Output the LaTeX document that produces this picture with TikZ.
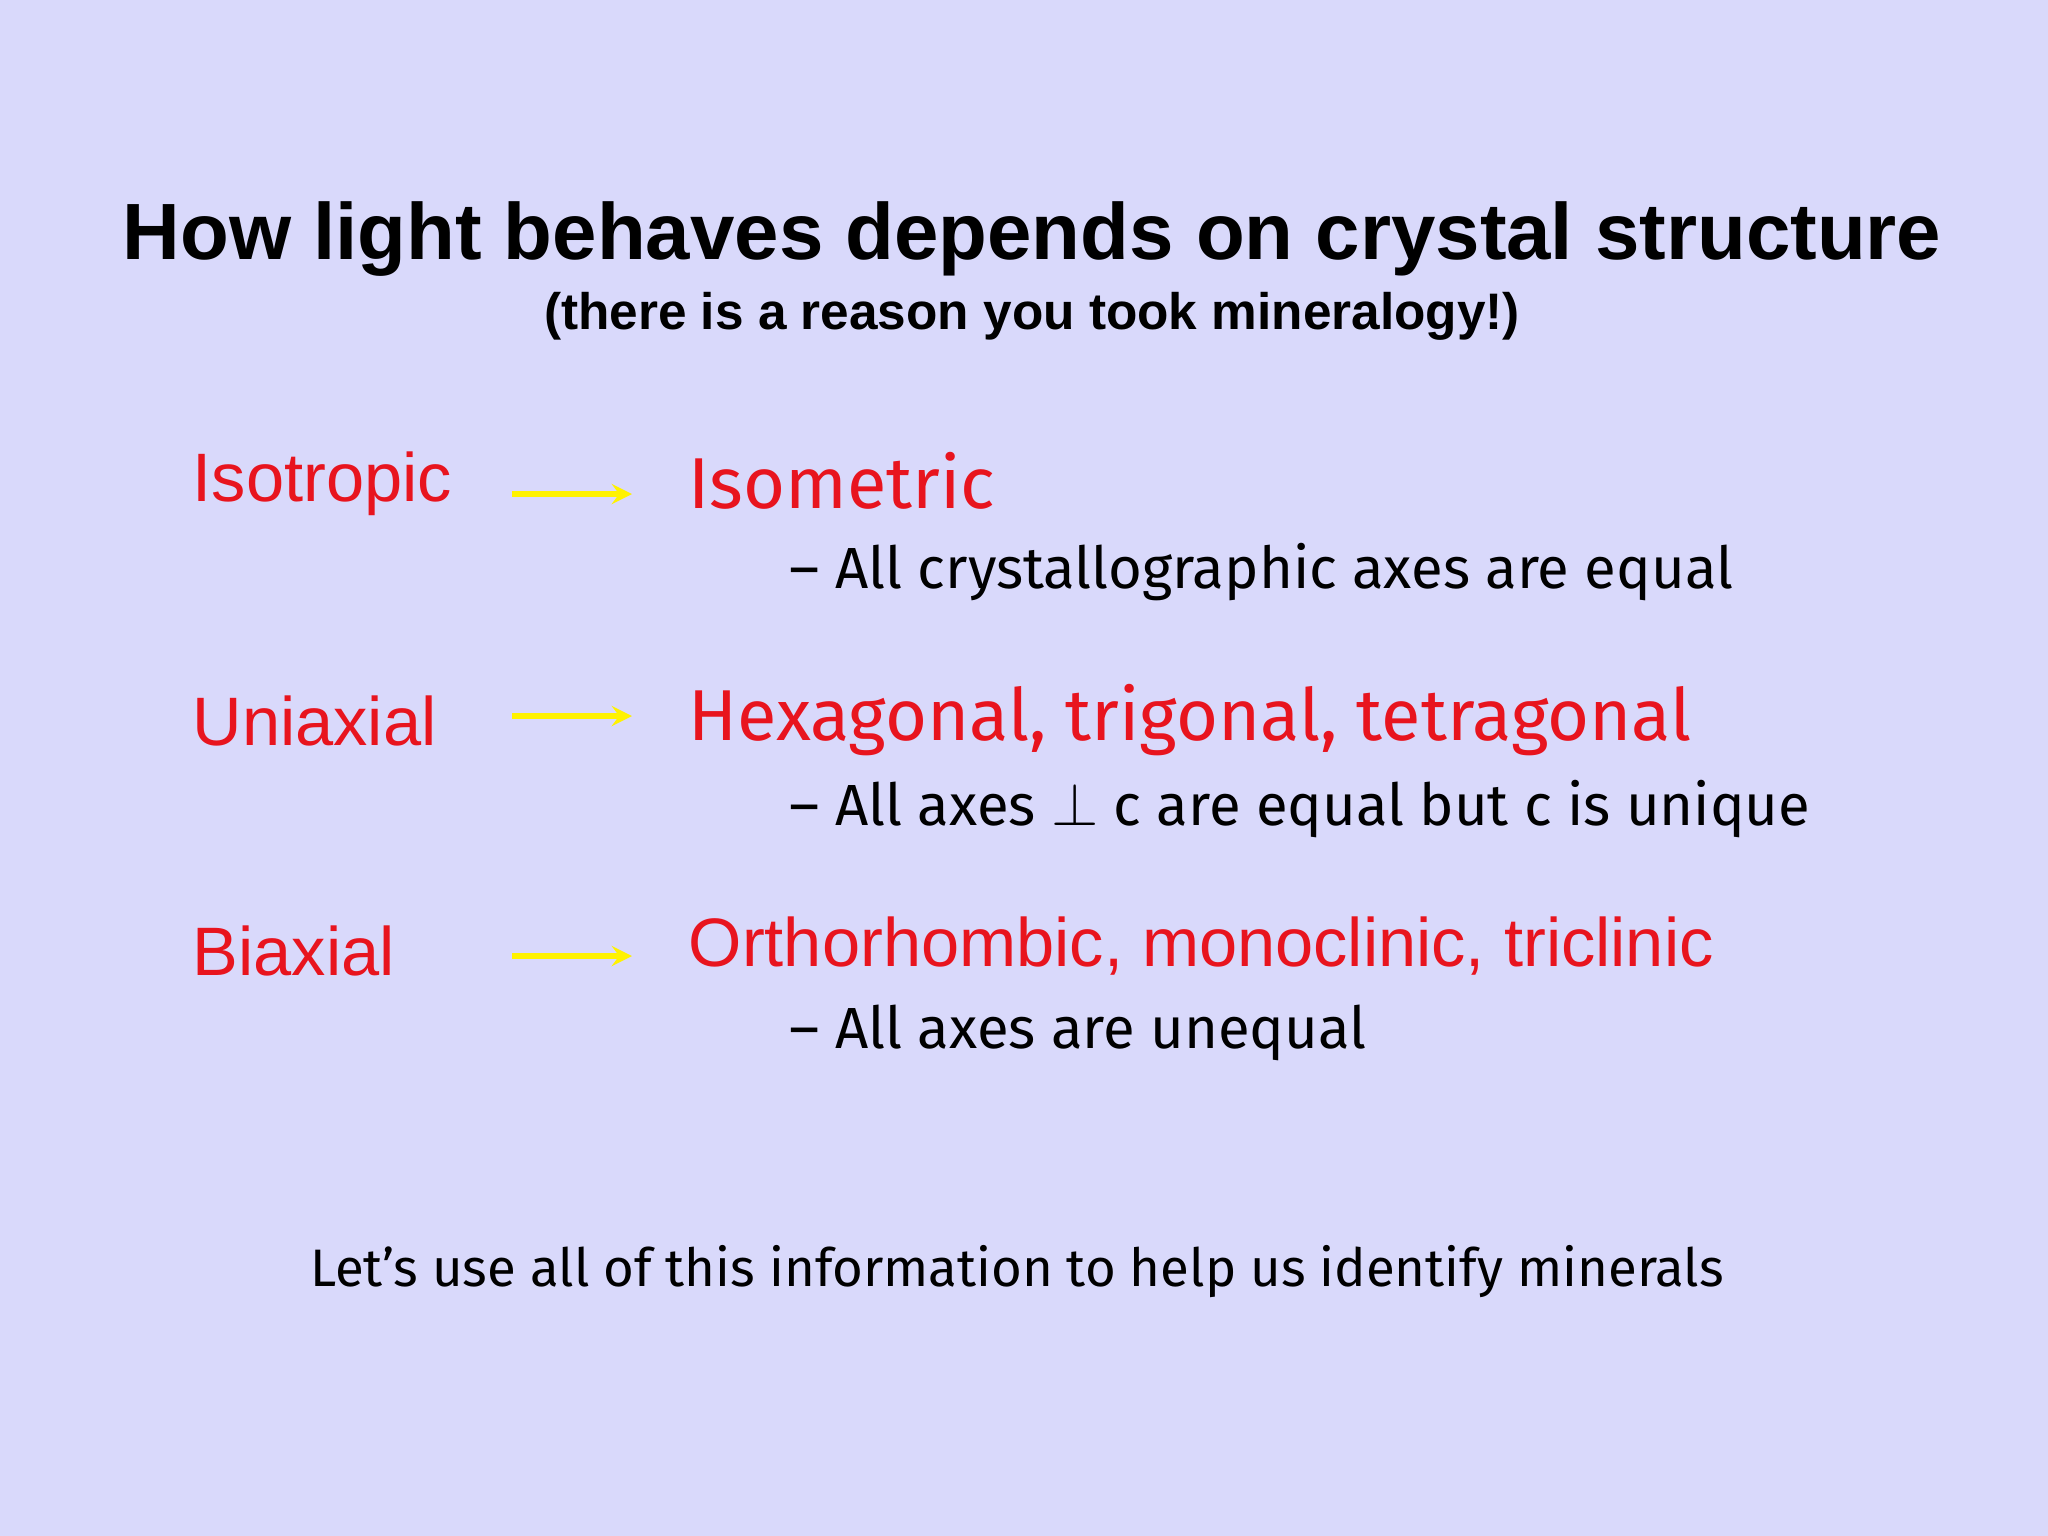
\documentclass[tikz,border=0pt]{standalone}
\usepackage{fontspec}
\setmainfont{Liberation Sans}
\newfontfamily\comic{Fira Sans}
\definecolor{bg}{HTML}{D9D9FB}
\definecolor{rd}{HTML}{E8141E}
\begin{document}
\begin{tikzpicture}[x=0.01cm,y=-0.01cm,
  lbl/.style={anchor=west,text=rd,font=\fontsize{19.5}{22}\selectfont,inner sep=0},
  cls/.style={anchor=west,text=rd,font=\comic\fontsize{20.5}{24}\selectfont,inner sep=0},
  sub/.style={anchor=west,font=\comic\fontsize{16.5}{20}\selectfont,inner sep=0},
  arr/.style={draw=yellow,line width=1.5pt,-stealth}]
\fill[bg] (0,0) rectangle (2048,1536);
\node[font=\bfseries\fontsize{22.7}{26}\selectfont] (t) at (1032,239) {How light behaves depends on crystal structure};
\node[font=\bfseries\fontsize{14.6}{17}\selectfont] (s) at (1032,316) {(there is a reason you took mineralogy!)};
\node[lbl] (i) at (192,484) {Isotropic};
\node[lbl] (u) at (192,721) {Uniaxial};
\node[lbl] (b) at (192,951) {Biaxial};
\coordinate (a1) at (512,494); \coordinate (a1e) at (632,494);
\coordinate (a2) at (512,716); \coordinate (a2e) at (632,716);
\coordinate (a3) at (512,956); \coordinate (a3e) at (632,956);
\draw[arr] (a1)--(a1e); \draw[arr] (a2)--(a2e); \draw[arr] (a3)--(a3e);
\node[cls] (c1) at (688,481) {Isometric};
\node[sub] (d1) at (789,572) {– All crystallographic axes are equal};
\node[cls] (c2) at (688,720) {Hexagonal, trigonal, tetragonal};
\node[sub] (d2) at (789,809) {– All axes $\perp$ c are equal but c is unique};
\node[lbl] (c3) at (688,946) {Orthorhombic, monoclinic, triclinic};
\node[sub] (d3) at (789,1033) {– All axes are unequal};
\node[font=\comic\fontsize{15}{18}\selectfont] (f) at (1017,1272) {Let’s use all of this information to help us identify minerals};
\end{tikzpicture}
\end{document}
